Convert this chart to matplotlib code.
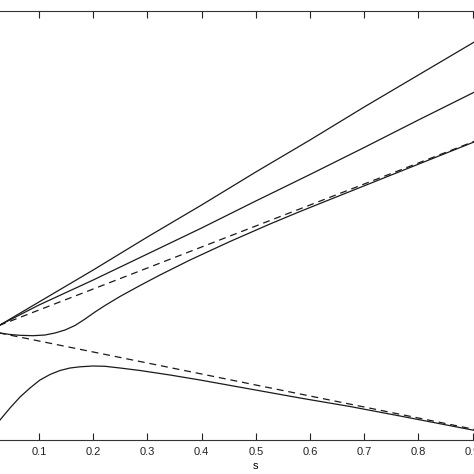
import numpy as np
import matplotlib
matplotlib.use('Agg')
import matplotlib.pyplot as plt

plt.rcParams['font.family'] = ['Liberation Sans', 'DejaVu Sans']
plt.rcParams['lines.scale_dashes'] = False

# s values used for the straight-ish curves
s_grid = [0.0, 0.028, 0.1, 0.2, 0.3, 0.4, 0.5, 0.6, 0.7, 0.8, 0.9, 1.0]

# top two solid branches
upper1 = [1.10, 1.15, 1.38, 1.70, 2.03, 2.35, 2.68, 3.00, 3.33, 3.65, 3.97, 4.30]
upper2 = [1.10, 1.15, 1.35, 1.60, 1.86, 2.12, 2.39, 2.655, 2.925, 3.20, 3.47, 3.74]

# asymptotes (dashed)
s_dash = [0.0, 0.1, 0.2, 0.3, 0.4, 0.5, 0.6, 0.7, 0.8, 0.9, 1.0]
asym_up = [1.09, 1.30, 1.51, 1.72, 1.93, 2.14, 2.35, 2.56, 2.77, 2.98, 3.19]
asym_lo = [1.10, 0.99, 0.88, 0.77, 0.66, 0.55, 0.44, 0.33, 0.22, 0.11, 0.0]

# solid branch with the shallow dip, joins the upper asymptote
s_dip = [0.0, 0.028, 0.0465, 0.065, 0.089, 0.111, 0.1295, 0.148, 0.1664, 0.185,
         0.2033, 0.2218, 0.2494, 0.2864, 0.3232, 0.3786, 0.4524, 0.5262, 0.5816,
         0.6738, 0.7661, 0.9026, 1.0]
dip = [1.10, 1.07, 1.055, 1.047, 1.043, 1.05, 1.07, 1.10, 1.145, 1.21,
       1.28, 1.345, 1.435, 1.545, 1.65, 1.80, 1.985, 2.16, 2.285,
       2.485, 2.685, 2.98, 3.18]

# lower solid branch with the hump, joins the lower asymptote
s_low = [0.0, 0.028, 0.0465, 0.065, 0.0834, 0.1018, 0.1203, 0.1387, 0.1572, 0.1756,
         0.1996, 0.2218, 0.2494, 0.2864, 0.3417, 0.3971, 0.4893, 0.5816, 0.6738,
         0.7661, 0.9026, 1.0]
low = [0.0, 0.20, 0.32, 0.43, 0.52, 0.60, 0.655, 0.695, 0.72, 0.732,
       0.74, 0.737, 0.72, 0.695, 0.65, 0.60, 0.51, 0.42, 0.335,
       0.24, 0.097, -0.005]

fig = plt.figure(figsize=(4.74, 4.74), dpi=100)
# the picture is a crop: the left part and right end of the axes lie outside
ax = fig.add_axes([-15.2/474, 34/474, 542/474, 429/474])

lw = 0.9
col = '#1a1a1a'
ax.plot(s_grid, upper1, color=col, lw=lw)
ax.plot(s_grid, upper2, color=col, lw=lw)
ax.plot(s_dip, dip, color=col, lw=lw)
ax.plot(s_low, low, color=col, lw=lw)
ax.plot(s_dash, asym_up, color=col, lw=lw, dashes=(5, 3.5))
ax.plot(s_dash, asym_lo, color=col, lw=lw, dashes=(5, 3.5))

ax.set_xlim(0, 1)
ax.set_ylim(0, 4.29)
ax.set_xticks(np.arange(0, 1.01, 0.1))
ax.set_xticklabels(['0', '0.1', '0.2', '0.3', '0.4', '0.5', '0.6', '0.7', '0.8', '0.9', '1'])
ax.tick_params(direction='in', top=True, right=True, length=5, width=0.8,
               labelsize=8, pad=5, colors='#222222')
ax.set_xlabel('s', fontsize=8, labelpad=3)
for sp in ax.spines.values():
    sp.set_linewidth(0.8)
    sp.set_color('#333333')

fig.savefig('out.png', dpi=100)
